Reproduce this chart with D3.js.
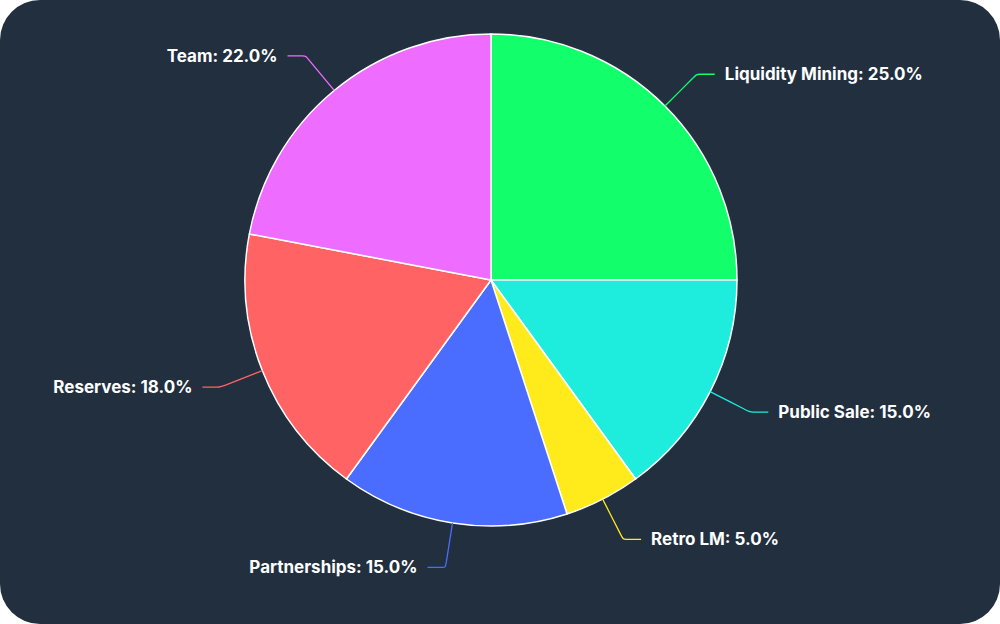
<!DOCTYPE html>
<html><head><meta charset="utf-8">
<script src="https://cdn.jsdelivr.net/npm/d3@7/dist/d3.min.js"></script>
<style>body{margin:0;background:#fff}</style></head>
<body><svg id="c" width="1000" height="624"></svg>
<script>
const categories = ["Liquidity Mining","Public Sale","Retro LM","Partnerships","Reserves","Team"];
const values = [25,15,5,15,18,22];
const colors = ["#12ff6b","#1eecdc","#ffea1c","#4a6dff","#ff6363","#ee6cff"];

const svg = d3.select("#c");
svg.append("rect").attr("width",1000).attr("height",624).attr("rx",40).attr("fill","#212f3f");
const cx=491, cy=280, r=246;
const g = svg.append("g").attr("transform",`translate(${cx},${cy})`);
const pie = d3.pie().sort(null).value(d=>d)(values);
const arc = d3.arc().innerRadius(0).outerRadius(r);
g.selectAll("path.s").data(pie).join("path").attr("class","s")
  .attr("d",arc).attr("fill",(d,i)=>colors[i]).attr("stroke","#fff").attr("stroke-width",1.5).attr("stroke-linejoin","round");
const line = d3.line().curve(d3.curveBasis);
pie.forEach((d,i)=>{
  const a=(d.startAngle+d.endAngle)/2;
  const pt=rr=>[Math.sin(a)*rr,-Math.cos(a)*rr];
  const side=Math.sin(a)>=0?1:-1;
  const p0=pt(r), p1=pt(r+45), p2=[p1[0]+side*18,p1[1]];
  g.append("path").attr("d",line([p0,p1,p1,p2])).attr("fill","none").attr("stroke",colors[i]).attr("stroke-width",1.3);
  g.append("text").attr("x",p2[0]+side*10).attr("y",p2[1]).attr("dy","0.35em")
    .attr("text-anchor",side>0?"start":"end").attr("fill","#fff")
    .attr("font-family","Inter").attr("font-weight",700).attr("font-size",17)
    .text(`${categories[i]}: ${values[i].toFixed(1)}%`);
});
</script></body></html>
